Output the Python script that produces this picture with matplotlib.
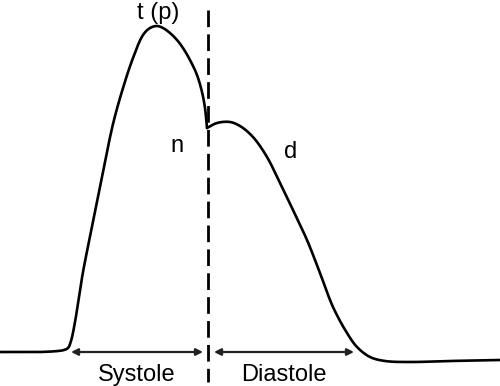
import matplotlib.pyplot as plt
import numpy as np

# waveform (x to the right, y downward as in the image)
# systolic part, up to the notch
sys_x = [0, 40, 58, 64, 68, 71, 75, 83, 93, 103, 113, 123, 133, 143, 150, 157,
         163, 170, 177, 183, 190, 197, 202, 205, 207]
sys_y = [352, 352, 351, 350, 348, 341, 322, 272, 222, 172, 124, 88, 58, 35, 28, 26,
         28, 33, 40, 48, 60, 75, 92, 108, 128]
# diastolic part, from the notch on
dia_x = [207, 217, 230, 240, 253, 267, 280, 293, 307, 320, 333, 347, 357, 370,
         385, 410, 450, 500]
dia_y = [128, 123, 122, 126, 137, 157, 183, 210, 240, 273, 307, 333, 347, 357,
         361, 362, 361, 360]

labels = ['t (p)', 'n', 'd']
label_x = [158, 177, 291]
label_y = [13, 146, 152]

phases = ['Systole', 'Diastole']
phase_start = [71, 214]
phase_end = [203, 354]
divider_x = 208


def smooth(xs, ys, n=20):
  # centripetal catmull-rom through the traced points, only to round the drawing
  p = np.column_stack([xs, ys]).astype(float)
  p = np.vstack([2 * p[0] - p[1], p, 2 * p[-1] - p[-2]])
  out = []
  for i in range(1, len(p) - 2):
    p0, p1, p2, p3 = p[i - 1], p[i], p[i + 1], p[i + 2]
    t0 = 0.0
    t1 = t0 + np.linalg.norm(p1 - p0) ** 0.5
    t2 = t1 + np.linalg.norm(p2 - p1) ** 0.5
    t3 = t2 + np.linalg.norm(p3 - p2) ** 0.5
    t = np.linspace(t1, t2, n)[:, None]
    a1 = (t1 - t) / (t1 - t0) * p0 + (t - t0) / (t1 - t0) * p1
    a2 = (t2 - t) / (t2 - t1) * p1 + (t - t1) / (t2 - t1) * p2
    a3 = (t3 - t) / (t3 - t2) * p2 + (t - t2) / (t3 - t2) * p3
    b1 = (t2 - t) / (t2 - t0) * a1 + (t - t0) / (t2 - t0) * a2
    b2 = (t3 - t) / (t3 - t1) * a2 + (t - t1) / (t3 - t1) * a3
    out.append((t2 - t) / (t2 - t1) * b1 + (t - t1) / (t2 - t1) * b2)
  c = np.vstack(out)
  return c[:, 0], c[:, 1]


plt.rcParams['font.family'] = ['Liberation Sans', 'DejaVu Sans']

fig = plt.figure(figsize=(5, 3.86), dpi=100)
ax = fig.add_axes([0, 0, 1, 1])
ax.set_xlim(0, 500)
ax.set_ylim(386, 0)
ax.axis('off')

for xs, ys in [(sys_x, sys_y), (dia_x, dia_y)]:
  sx, sy = smooth(xs, ys)
  ax.plot(sx, sy, color='black', lw=1.9, solid_capstyle='round',
          solid_joinstyle='round')
ax.plot([divider_x, divider_x], [10, 382], color='black', lw=2.0,
        dashes=(6, 2.6))

for t, x, y in zip(labels, label_x, label_y):
  ax.text(x, y, t, fontsize=17, ha='center', va='center')

for name, a, b in zip(phases, phase_start, phase_end):
  ax.annotate('', xy=(a, 352), xytext=(b, 352),
              arrowprops=dict(arrowstyle='<|-|>', color='#222222', lw=1.6,
                              mutation_scale=10, shrinkA=0, shrinkB=0))
  ax.text((a + b) / 2, 375, name, fontsize=17, ha='center', va='center')

fig.savefig('out.png', dpi=100)
